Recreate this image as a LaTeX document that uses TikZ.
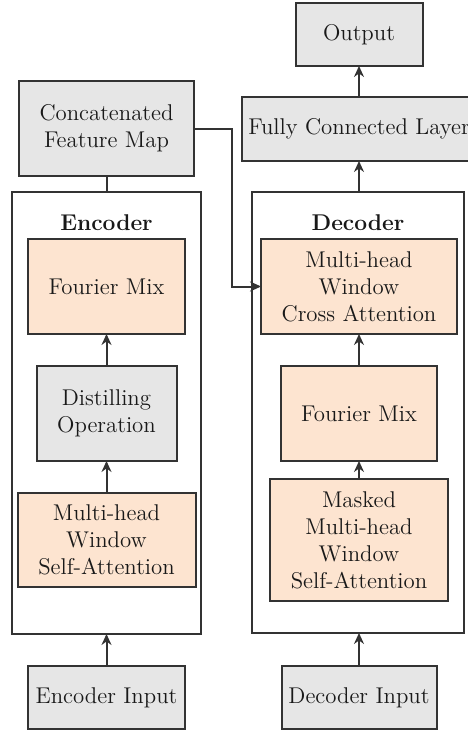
\documentclass[tikz,border=0pt]{standalone}
\usetikzlibrary{arrows.meta}
\definecolor{boxgray}{HTML}{E6E6E6}
\definecolor{boxorange}{HTML}{FDE4D0}
\definecolor{edgecol}{HTML}{333333}
\begin{document}
\begin{tikzpicture}[x=0.5pt,y=-0.5pt,
  every node/.style={font=\fontsize{11.4}{13.5}\selectfont, align=center, text=black!90},
  blk/.style={draw=edgecol, line width=1pt, inner sep=0pt, outer sep=0pt},
  graybox/.style={blk, fill=boxgray},
  orangebox/.style={blk, fill=boxorange},
  frame/.style={blk, fill=white},
  arr/.style={draw=edgecol, line width=1pt, -{Stealth[length=5.5pt,width=5pt,inset=1.8pt]}},
  ln/.style={draw=edgecol, line width=1pt}]
\useasboundingbox (0,0) rectangle (467,739);
% outer frames
\node[frame, minimum width=94.5pt, minimum height=221pt] (enc) at (106.5,413) {};
\node[frame, minimum width=106pt, minimum height=220.5pt] (dec) at (358,412.5) {};
\node[font=\fontsize{11.4}{13.5}\selectfont\bfseries] (enclab) at (106.5,223) {Encoder};
\node[font=\fontsize{11.4}{13.5}\selectfont\bfseries] (declab) at (358,223) {Decoder};
% top
\node[graybox, minimum width=63.5pt, minimum height=31.5pt] (out) at (359,34.5) {Output};
\node[graybox, minimum width=117pt, minimum height=32pt] (fc) at (359,129) {Fully Connected Layer};
\node[graybox, minimum width=87.5pt, minimum height=47.5pt] (concat) at (106.5,128.5) {Concatenated\\Feature Map};
% encoder
\node[orangebox, minimum width=78.5pt, minimum height=47.5pt] (efm) at (106.5,286.5) {Fourier Mix};
\node[graybox, minimum width=70pt, minimum height=47.5pt] (dist) at (106.5,413.5) {Distilling\\Operation};
\node[orangebox, minimum width=89pt, minimum height=47pt] (emh) at (106.5,540) {Multi-head\\Window\\Self-Attention};
\node[graybox, minimum width=78.5pt, minimum height=31.5pt] (ein) at (106.5,697.5) {Encoder Input};
% decoder
\node[orangebox, minimum width=98pt, minimum height=47.5pt] (ca) at (359,286.5) {Multi-head\\Window\\Cross Attention};
\node[orangebox, minimum width=78pt, minimum height=47.5pt] (dfm) at (359,413.5) {Fourier Mix};
\node[orangebox, minimum width=89pt, minimum height=61pt] (mmh) at (359,540) {Masked\\Multi-head\\Window\\Self-Attention};
\node[graybox, minimum width=77.5pt, minimum height=31.5pt] (din) at (359,697.5) {Decoder Input};
% connectors
\draw[arr] (ein.north) -- (enc.south);
\draw[arr] (emh.north) -- (dist.south);
\draw[arr] (dist.north) -- (efm.south);
\draw[ln] (concat.south) -- (enc.north);
\coordinate (bend) at (232,128.5);
\draw[arr] (concat.east) -- (bend) |- (ca.west);
\draw[arr] (din.north) -- (dec.south -| din.north);
\draw[arr] (mmh.north) -- (dfm.south -| mmh.north);
\draw[arr] (dfm.north) -- (ca.south -| dfm.north);
\draw[arr] (dec.north -| fc.south) -- (fc.south);
\draw[arr] (fc.north -| out.south) -- (out.south);
\end{tikzpicture}
\end{document}
